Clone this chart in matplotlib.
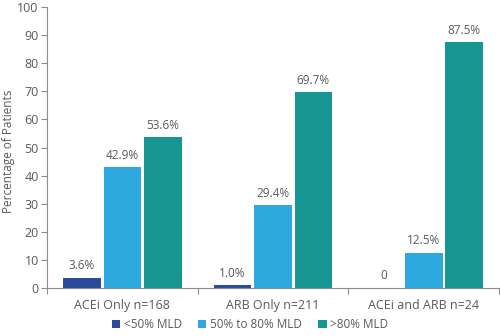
import numpy as np
import matplotlib.pyplot as plt

categories = ['ACEi Only n=168', 'ARB Only n=211', 'ACEi and ARB n=24']
series = ['<50% MLD', '50% to 80% MLD', '>80% MLD']
low = [3.6, 1.0, 0.0]
mid = [42.9, 29.4, 12.5]
high = [53.6, 69.7, 87.5]
labels_low = ['3.6%', '1.0%', '0']
labels_mid = ['42.9%', '29.4%', '12.5%']
labels_high = ['53.6%', '69.7%', '87.5%']

colors = ['#2B4A9B', '#2EA9E0', '#169593']
txt = '#595959'

plt.rcParams['font.family'] = ['Open Sans', 'DejaVu Sans']
fig = plt.figure(figsize=(5, 3.36), dpi=100)
ax = fig.add_axes([0.094, 0.143, 0.904, 0.836])

x = np.arange(len(categories))
w = 0.25
for i, (vals, labs) in enumerate([(low, labels_low), (mid, labels_mid), (high, labels_high)]):
    pos = x + (i - 1) * 0.268
    ax.bar(pos, vals, w, color=colors[i], label=series[i], zorder=2)
    for p, v, l in zip(pos, vals, labs):
        ax.text(p, v + 2, l, ha='center', va='bottom', fontsize=8.5, color=txt)

ax.set_xlim(-0.5, 2.5)
ax.set_ylim(0, 100)
ax.set_yticks(range(0, 101, 10))
ax.set_xticks([-0.5, 0.5, 1.5, 2.5])
ax.set_xticklabels([])
ax.set_xticks(x, minor=True)
ax.set_xticklabels(categories, minor=True)
ax.tick_params(axis='x', which='minor', length=0, pad=8, labelsize=9, labelcolor=txt)
ax.tick_params(axis='x', which='major', length=4, color='#8c8c8c')
ax.tick_params(axis='y', length=4, color='#8c8c8c', labelsize=9, labelcolor=txt, pad=2)
for s in ['top', 'right']:
    ax.spines[s].set_visible(False)
for s in ['left', 'bottom']:
    ax.spines[s].set_color('#8c8c8c')
fig.text(0.018, 0.55, 'Percentage of Patients', rotation=90, ha='center', va='center',
         fontsize=8.5, color=txt)

h, l = ax.get_legend_handles_labels()
fig.legend(h, l, loc='center', bbox_to_anchor=(0.5, 0.033), ncol=3, frameon=False,
           fontsize=8.5, handlelength=0.7, handleheight=0.7, handletextpad=0.3,
           columnspacing=1.4, labelcolor=txt, borderpad=0.1)

fig.savefig('out.png', dpi=100)
